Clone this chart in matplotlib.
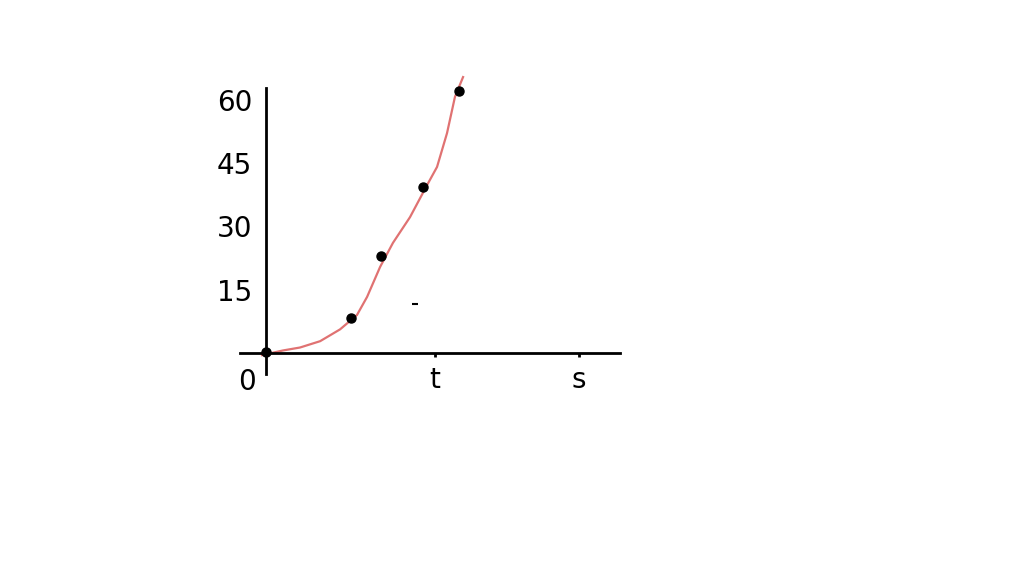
import matplotlib
matplotlib.use("Agg")
import matplotlib.pyplot as plt
import numpy as np

# points (x in units of t, y in axis units)
pt_x = [0.0, 0.50, 0.68, 0.93, 1.14]
pt_y = [0.2, 8.3, 23.0, 39.3, 62.0]

# hand drawn red curve
curve_x = [-0.024, 0.10, 0.201, 0.320, 0.438, 0.538, 0.598, 0.675, 0.751,
           0.852, 0.953, 1.012, 1.071, 1.118, 1.166]
curve_y = [-0.5, 0.6, 1.3, 2.8, 5.6, 9.0, 13.3, 20.4, 26.1,
           32.2, 39.8, 44.1, 52.1, 60.7, 65.4]

ytick_vals = [15, 30, 45, 60]
xtick_vals = [1.0, 1.85]
xtick_labels = ["t", "s"]

fig = plt.figure(figsize=(10.24, 5.76), dpi=100)
ax = fig.add_axes([0.2344, 0.3432, 0.3711, 0.5274])

ax.plot(curve_x, curve_y, color="#e07272", lw=1.6, zorder=2,
        solid_joinstyle="round")
ax.plot(pt_x, pt_y, "o", color="black", ms=6.5, zorder=3)
ax.plot([0.88], [11.6], marker="_", color="black", ms=5, mew=1.5)

ax.set_xlim(-0.154, 2.095)
ax.set_ylim(-6, 66)

for side in ["top", "right"]:
    ax.spines[side].set_visible(False)
ax.spines["left"].set_position(("data", 0))
ax.spines["bottom"].set_position(("data", 0))
ax.spines["left"].set_bounds(-5, 62.8)
for side in ["left", "bottom"]:
    ax.spines[side].set_linewidth(2.0)

ax.set_yticks(ytick_vals)
ax.set_yticklabels([str(v) for v in ytick_vals])
ax.tick_params(axis="y", length=0, pad=10, labelsize=20)
ax.set_xticks(xtick_vals)
ax.set_xticklabels(xtick_labels)
ax.tick_params(axis="x", length=3, width=2, pad=6, labelsize=20)
ax.text(-0.11, -3.5, "0", fontsize=20, ha="center", va="top")

fig.savefig("out.png", dpi=100)
